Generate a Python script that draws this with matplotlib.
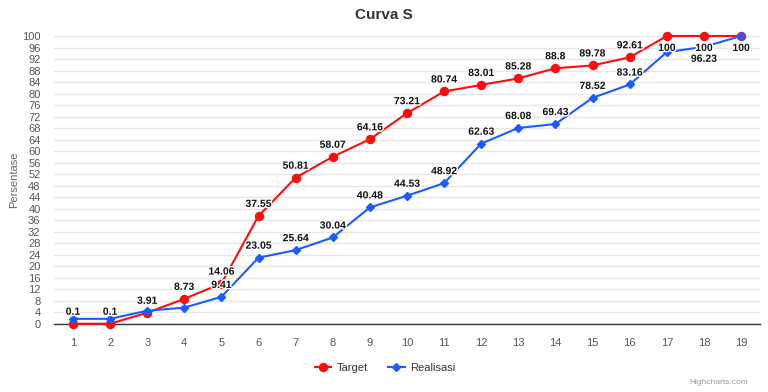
import matplotlib
matplotlib.use("Agg")
import matplotlib.pyplot as plt
import matplotlib.patheffects as pe
from matplotlib.lines import Line2D

categories = list(range(1, 20))
target = [0.1, 0.1, 3.91, 8.73, 14.06, 37.55, 50.81, 58.07, 64.16, 73.21,
          80.74, 83.01, 85.28, 88.8, 89.78, 92.61, 100, 100, 100]
realisasi = [1.8, 1.8, 4.6, 5.7, 9.41, 23.05, 25.64, 30.04, 40.48, 44.53,
             48.92, 62.63, 68.08, 69.43, 78.52, 83.16, 94.4, 96.23, 100]
# label indices hidden due to overlap (as in the reference)
target_hidden = {18}
realisasi_hidden = {0, 1, 2, 3, 16}
yticks = list(range(0, 101, 4))

RED = "#ff0d0d"
BLUE = "#1a5cff"

plt.rcParams['font.family'] = ['Liberation Sans', 'DejaVu Sans']
fig = plt.figure(figsize=(7.68, 3.92), dpi=100)
W, H = 768, 392
left, right, top, bottom = 54.4, 759.6, 36, 324
ax = fig.add_axes([left / W, 1 - bottom / H, (right - left) / W, (bottom - top) / H])

ax.set_xlim(0.5, 19.5)
ax.set_ylim(0, 100)
ax.set_yticks(yticks)
ax.set_xticks(categories)
ax.grid(axis='y', color='#e6e6e6', linewidth=1)
ax.set_axisbelow(True)
for s in ['top', 'right', 'left']:
    ax.spines[s].set_visible(False)
ax.spines['bottom'].set_color('#333333')
ax.spines['bottom'].set_linewidth(1)
ax.tick_params(axis='both', length=0, labelsize=8, colors='#555555')
ax.tick_params(axis='y', pad=10)
ax.tick_params(axis='x', pad=10)

ax.plot(categories, target, color=RED, lw=1.5, marker='o', ms=5.8, clip_on=False, zorder=3)
ax.plot(categories, realisasi, color=BLUE, lw=1.5, marker='D', ms=3.8, clip_on=False, zorder=4)

def fmt(v):
    return ('%g' % v)

def annotate(vals, hidden):
    for i, v in enumerate(vals):
        if i in hidden:
            continue
        if v >= 96:
            off, va = -5, 'top'
        else:
            off, va = 5, 'bottom'
        t = ax.annotate(fmt(v), (categories[i], v), xytext=(0, off), textcoords='offset points',
                        ha='center', va=va, fontsize=7.5, fontweight='bold', color='#111111',
                        zorder=6)
        t.set_path_effects([pe.withStroke(linewidth=2, foreground='white')])

annotate(target, target_hidden)
annotate(realisasi, realisasi_hidden)

ax.set_ylabel('Persentase', color='#666666', fontsize=8)
ax.yaxis.set_label_coords(-(left - 19) / (right - left), 0.5)

fig.text(0.5, 1 - 15 / H, 'Curva S', ha='center', va='center', fontsize=11,
         fontweight='bold', color='#333333')

handles = [Line2D([], [], color=RED, lw=1.5, marker='o', ms=5.8),
           Line2D([], [], color=BLUE, lw=1.5, marker='D', ms=3.8)]
fig.legend(handles, ['Target', 'Realisasi'], loc='center', bbox_to_anchor=(385 / W, 1 - 368 / H),
           ncol=2, frameon=False, fontsize=8, handlelength=1.5, columnspacing=1.8,
           handletextpad=0.5, labelcolor='#333333')

fig.text(748 / W, 1 - 383 / H, 'Highcharts.com', ha='right', va='center', fontsize=6, color='#999999')

fig.savefig('out.png', dpi=100)
